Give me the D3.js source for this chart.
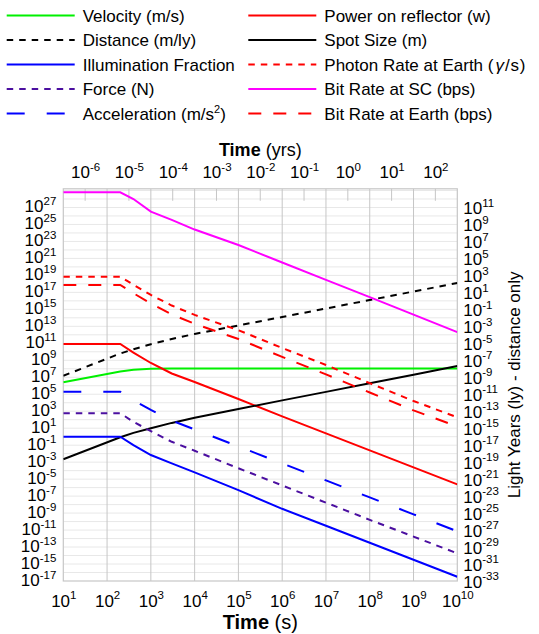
<!DOCTYPE html>
<html>
<head>
<meta charset="utf-8">
<script src="https://cdn.jsdelivr.net/npm/d3@7/dist/d3.min.js"></script>
<style>
  body { margin: 0; background: #fff; }
  svg { display: block; font-family: "Liberation Sans", Arial, sans-serif; }
</style>
</head>
<body>
<svg id="chart" width="539" height="634"></svg>
<script>
// sample times (s)
const times = [1e1, 2e2, 4e2, 1e3, 3e3, 1e4, 1e5, 1e6, 1e7, 1e8, 1e9, 1e10];

// series values
const velocity     = [2.6e6, 4.9e7, 7.9e7, 1.0e8, 1.07e8, 1.07e8, 1.07e8, 1.07e8, 1.07e8, 1.07e8, 1.07e8, 1.07e8];
const distance     = [1.5e7, 6.3e9, 2.0e10, 7.9e10, 3.2e11, 1.26e12, 1.26e13, 1.26e14, 1.26e15, 1.26e16, 1.26e17, 1.26e18];
const illumination = [1, 1, 0.1, 6.9e-3, 7.1e-4, 6.3e-5, 5.0e-7, 3.2e-9, 3.2e-11, 3.2e-13, 3.2e-15, 3.2e-17];
const force        = [575, 575, 56, 4.5, 0.25, 0.022, 1.9e-4, 1.8e-6, 1.7e-8, 1.6e-10, 1.7e-12, 1.8e-14];
const acceleration = [2.0e5, 2.0e5, 2.0e4, 1.4e3, 79, 7.1, 7.1e-2, 7.1e-4, 7.1e-6, 7.1e-8, 7.1e-10, 7.1e-12];
const power        = [8.3e10, 8.3e10, 7.9e9, 4.8e8, 2.8e7, 2.75e6, 2.75e4, 245, 2.45, 2.45e-2, 2.45e-4, 2.45e-6];
const spotSize     = [2.2e-3, 0.85, 2.8, 10, 42, 166, 1.8e3, 1.9e4, 1.9e5, 1.95e6, 2.0e7, 2.1e8];
const photonRate   = [7.1e18, 7.1e18, 7.9e17, 5.0e16, 2.8e15, 2.2e14, 3.5e12, 2.8e10, 2.8e8, 2.0e6, 1.6e4, 190];
const bitRateSC    = [6.2e28, 6.2e28, 1.0e28, 3.2e26, 3.5e25, 2.5e24, 3.8e22, 3.3e20, 3.0e18, 2.7e16, 2.4e14, 2.1e12];
const bitRateEarth = [7.4e17, 7.4e17, 7.9e16, 5.0e15, 2.5e14, 2.0e13, 3.2e11, 2.5e9, 2.2e7, 1.6e5, 1.26e3, 16];

// tick exponents
const bottomTicks = [1, 2, 3, 4, 5, 6, 7, 8, 9, 10];
const topTicks = [-6, -5, -4, -3, -2, -1, 0, 1, 2];
const leftTicks = d3.range(-17, 28, 2);
const rightTicks = d3.range(-33, 12, 2);

const SEC_PER_YEAR = 3.15576e7;
const M_PER_LY = 9.461e15;

const series = [
  { name: 'Velocity (m/s)',           values: velocity,     color: '#00f000', dash: null },
  { name: 'Power on reflector (w)',   values: power,        color: '#ff0000', dash: null },
  { name: 'Distance (m/ly)',          values: distance,     color: '#000000', dash: '6.5,6' },
  { name: 'Spot Size (m)',            values: spotSize,     color: '#000000', dash: null },
  { name: 'Illumination Fraction',    values: illumination, color: '#0000ff', dash: null },
  { name: 'Photon Rate at Earth (γ/s)', values: photonRate, color: '#ff0000', dash: '6.5,6' },
  { name: 'Force (N)',                values: force,        color: '#4b0fa0', dash: '6.5,6' },
  { name: 'Bit Rate at SC (bps)',     values: bitRateSC,    color: '#ff00ff', dash: null },
  { name: 'Acceleration (m/s²)',      values: acceleration, color: '#0000ff', dash: '18,22' },
  { name: 'Bit Rate at Earth (bps)',  values: bitRateEarth, color: '#ff0000', dash: '13,12' }
];

const svg = d3.select('#chart');
const plot = { left: 63.3, right: 457.3, top: 188.8, bottom: 581 };

const x = d3.scaleLog().domain([1e1, 1e10]).range([plot.left, plot.right]);
const xYears = d3.scaleLog()
  .domain([1e1 / SEC_PER_YEAR, 1e10 / SEC_PER_YEAR])
  .range([plot.left, plot.right]);
const y = d3.scaleLog().domain([1e-17, Math.pow(10, 29.2)]).range([plot.bottom, plot.top]);
const yLy = d3.scaleLog()
  .domain([1e-17 / M_PER_LY, Math.pow(10, 29.2) / M_PER_LY])
  .range([plot.bottom, plot.top]);

// horizontal decade gridlines
svg.append('g')
  .selectAll('line')
  .data(d3.range(-16, 30).map(e => Math.pow(10, e)))
  .join('line')
  .attr('x1', plot.left).attr('x2', plot.right)
  .attr('y1', d => y(d)).attr('y2', d => y(d))
  .attr('stroke', '#e8e8e8').attr('stroke-width', 1);

// vertical gridlines
svg.append('g')
  .selectAll('line')
  .data(bottomTicks.slice(1, -1).map(e => Math.pow(10, e)))
  .join('line')
  .attr('x1', d => x(d)).attr('x2', d => x(d))
  .attr('y1', plot.top).attr('y2', plot.bottom)
  .attr('stroke', '#c6c6c6').attr('stroke-width', 1);

// year tick marks hanging from the top edge
svg.append('g')
  .selectAll('line')
  .data(topTicks.map(e => Math.pow(10, e)))
  .join('line')
  .attr('x1', d => xYears(d)).attr('x2', d => xYears(d))
  .attr('y1', plot.top).attr('y2', plot.top + 12)
  .attr('stroke', '#c6c6c6').attr('stroke-width', 1);

svg.append('rect')
  .attr('x', plot.left).attr('y', plot.top)
  .attr('width', plot.right - plot.left).attr('height', plot.bottom - plot.top)
  .attr('fill', 'none').attr('stroke', '#c6c6c6').attr('stroke-width', 1.2);

// data lines
svg.append('clipPath').attr('id', 'clip')
  .append('rect')
  .attr('x', plot.left).attr('y', plot.top)
  .attr('width', plot.right - plot.left).attr('height', plot.bottom - plot.top);

const line = d3.line()
  .x(d => x(d[0]))
  .y(d => y(d[1]));

svg.append('g').attr('clip-path', 'url(#clip)')
  .selectAll('path')
  .data(series)
  .join('path')
  .attr('fill', 'none')
  .attr('stroke', d => d.color)
  .attr('stroke-width', 2)
  .attr('stroke-dasharray', d => d.dash)
  .attr('d', d => line(times.map((t, i) => [t, d.values[i]])));

// power-of-ten label with superscript exponent
function powLabel(sel, exp) {
  sel.append('tspan').text('10');
  sel.append('tspan').attr('dy', -7.5).attr('font-size', 11.5).text(exp);
}

function customAxis(axis, g) {
  g.call(axis);
  g.select('.domain').remove();
  g.selectAll('.tick line').remove();
  g.selectAll('.tick text').remove();
}

// bottom axis
const gBottom = svg.append('g').attr('transform', `translate(0,${plot.bottom})`);
customAxis(d3.axisBottom(x).tickValues(bottomTicks.map(e => Math.pow(10, e))), gBottom);
gBottom.selectAll('.tick').append('text')
  .attr('y', 25.5).attr('text-anchor', 'middle')
  .attr('font-size', 17).attr('fill', '#000')
  .each(function (d) { powLabel(d3.select(this), Math.round(Math.log10(d))); });

// top axis (years)
const gTop = svg.append('g').attr('transform', `translate(0,${plot.top})`);
customAxis(d3.axisTop(xYears).tickValues(topTicks.map(e => Math.pow(10, e))), gTop);
gTop.selectAll('.tick').append('text')
  .attr('y', -10.5).attr('text-anchor', 'middle')
  .attr('font-size', 17).attr('fill', '#000')
  .each(function (d) { powLabel(d3.select(this), Math.round(Math.log10(d))); });

// left axis
const gLeft = svg.append('g').attr('transform', `translate(${plot.left},0)`);
customAxis(d3.axisLeft(y).tickValues(leftTicks.map(e => Math.pow(10, e))), gLeft);
gLeft.selectAll('.tick').append('text')
  .attr('x', -7).attr('y', 4.5).attr('text-anchor', 'end')
  .attr('font-size', 17).attr('fill', '#000')
  .each(function (d) { powLabel(d3.select(this), Math.round(Math.log10(d))); });

// right axis (light years)
const gRight = svg.append('g').attr('transform', `translate(${plot.right},0)`);
customAxis(d3.axisRight(yLy).tickValues(rightTicks.map(e => Math.pow(10, e))), gRight);
gRight.selectAll('.tick').append('text')
  .attr('x', 6).attr('y', 6).attr('text-anchor', 'start')
  .attr('font-size', 17).attr('fill', '#000')
  .each(function (d) { powLabel(d3.select(this), Math.round(Math.log10(d))); });

// axis titles
const midX = (plot.left + plot.right) / 2;
const tb = svg.append('text').attr('x', midX).attr('y', 629)
  .attr('text-anchor', 'middle').attr('font-size', 20).attr('fill', '#000');
tb.append('tspan').attr('font-weight', 'bold').text('Time');
tb.append('tspan').text(' (s)');

const tt = svg.append('text').attr('x', midX).attr('y', 155.5)
  .attr('text-anchor', 'middle').attr('font-size', 18).attr('fill', '#000');
tt.append('tspan').attr('font-weight', 'bold').text('Time');
tt.append('tspan').text(' (yrs)');

svg.append('text')
  .attr('transform', `translate(520,${(plot.top + plot.bottom) / 2}) rotate(-90)`)
  .attr('text-anchor', 'middle').attr('font-size', 17).attr('fill', '#000')
  .text('Light Years (ly) - distance only');

// legend, two columns
const legend = svg.append('g')
  .selectAll('g')
  .data(series)
  .join('g')
  .attr('transform', (d, i) => `translate(${i % 2 === 0 ? 6.7 : 248.3},${15.5 + Math.floor(i / 2) * 24.5})`);

legend.append('line')
  .attr('x1', 0).attr('x2', 68)
  .attr('stroke', d => d.color)
  .attr('stroke-width', 2)
  .attr('stroke-dasharray', d => d.dash);

legend.append('text')
  .attr('x', 76).attr('y', 6)
  .attr('font-size', 17).attr('fill', '#000')
  .each(function (d) {
    const t = d3.select(this);
    if (d.name.endsWith('²)')) {
      t.append('tspan').text('Acceleration (m/s');
      t.append('tspan').attr('dy', -7).attr('font-size', 11).text('2');
      t.append('tspan').attr('dy', 7).text(')');
    } else if (d.name.includes('γ')) {
      t.append('tspan').text('Photon Rate at Earth (');
      t.append('tspan').attr('font-style', 'italic').attr('dx', 2).text('γ');
      t.append('tspan').attr('dx', 1).attr('letter-spacing', 0.8).text('/s)');
    } else {
      t.text(d.name);
    }
  });
</script>
</body>
</html>
